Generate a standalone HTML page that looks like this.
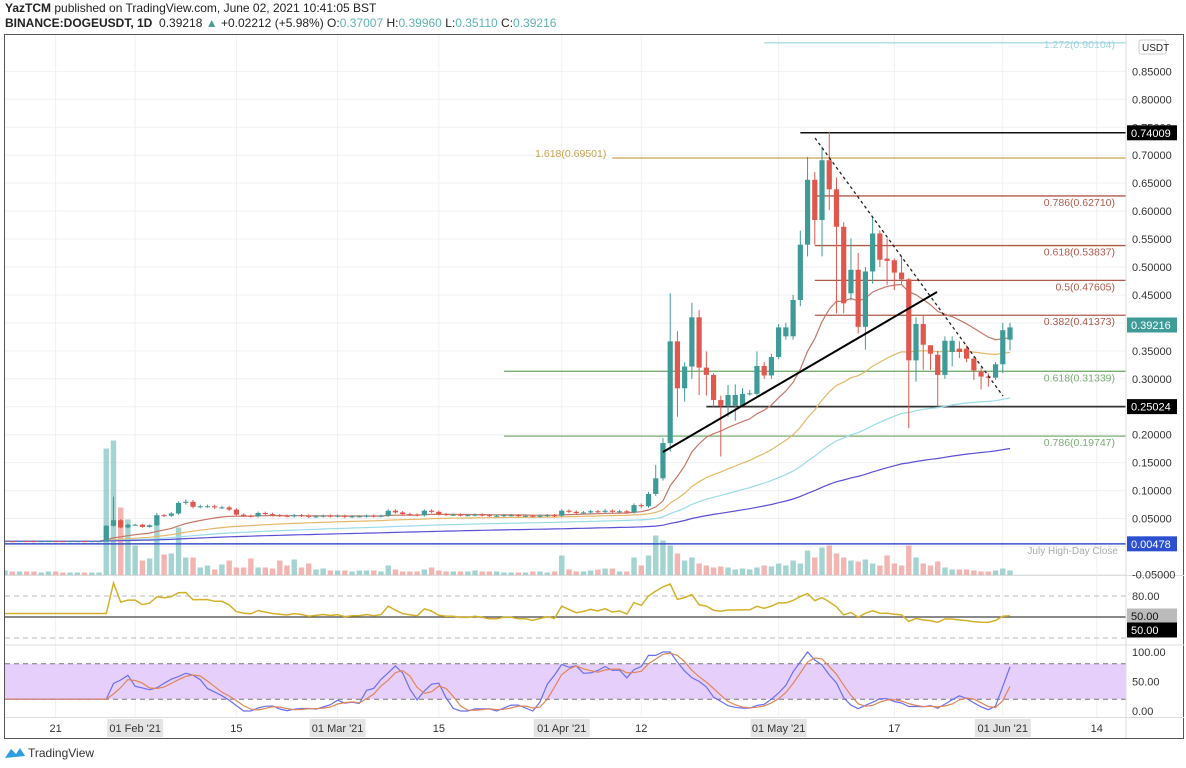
<!DOCTYPE html>
<html><head><meta charset="utf-8"><style>
html,body{margin:0;padding:0;background:#fff;width:1186px;height:768px;overflow:hidden}
svg{display:block;font-family:"Liberation Sans",sans-serif}
.hdr{position:absolute;left:5px;font:12px "Liberation Sans",sans-serif;color:#222;white-space:nowrap}
.v{color:#5fb3b3}
</style></head><body>
<div class="hdr" style="top:1px"><b>YazTCM</b> published on TradingView.com, June 02, 2021 10:41:05 BST</div>
<div class="hdr" style="top:16px"><b>BINANCE:DOGEUSDT, 1D</b>&nbsp; 0.39218 <span style="color:#4a9e9a">▲</span> +0.02212 (+5.98%) O:<span class="v">0.37007</span> H:<span class="v">0.39960</span> L:<span class="v">0.35110</span> C:<span class="v">0.39216</span></div>
<svg id="c" width="1186" height="768" viewBox="0 0 1186 768" style="position:absolute;left:0;top:0"></svg>
<script>
// ---- data ----
const firstDay = 13; // day index (Jan 1 = 0)
const earlyCloses = [0.0095,0.0094,0.0096,0.0095,0.0094,0.0095,0.0096,0.0095,0.0094,0.0095,0.0095,0.0094,0.0095,0.0095,
0.037,0.047,0.034,0.039,0.039,0.035,0.038,0.056,0.055,0.059,0.078,0.080,0.071,0.072,0.072,0.070,0.070,0.066,0.057,0.055,0.054,0.060,0.058,0.056,
0.055,0.054,0.056,0.055,0.053,0.054,0.055,0.054,0.055,0.053,0.054,0.054,0.055,0.054,0.055,
0.064,0.061,0.058,0.057,0.056,0.064,0.062,
0.058,0.057,0.057,0.056,0.056,0.057,0.056,0.055,0.055,0.056,0.056,0.055,0.055,0.054,0.055,0.056,0.055,
0.064,0.062,0.060,0.061,0.063,0.062,0.064,0.062,0.063,0.061,
0.074,0.072,0.094,0.122];
const earlyWickHighs = {28:0.089,34:0.060,37:0.081,38:0.084,103:0.146};
const lateOpens  = [0.122,0.185,0.367,0.283,0.322,0.41,0.32,0.307,0.262,0.252,0.252,0.252,0.273,0.273,0.323,0.306,0.339,0.376,0.376,0.441,0.54,0.656,0.584,0.691,0.639,0.572,0.453,0.495,0.393,0.492,0.56,0.515,0.512,0.49,0.478,0.333,0.398,0.36,0.343,0.307,0.348,0.354,0.354,0.336,0.313,0.304,0.302,0.326,0.370];
const lateHighs  = [0.194,0.453,0.385,0.33,0.436,0.423,0.349,0.31,0.27,0.289,0.29,0.283,0.28,0.349,0.33,0.345,0.398,0.40,0.45,0.565,0.697,0.67,0.715,0.742,0.66,0.58,0.551,0.525,0.50,0.59,0.565,0.551,0.515,0.519,0.48,0.41,0.414,0.36,0.35,0.376,0.376,0.367,0.36,0.34,0.32,0.31,0.33,0.40,0.40];
const lateLows   = [0.118,0.17,0.232,0.259,0.30,0.271,0.27,0.25,0.161,0.232,0.225,0.25,0.27,0.27,0.30,0.30,0.335,0.37,0.37,0.43,0.519,0.54,0.519,0.602,0.417,0.417,0.44,0.381,0.352,0.47,0.50,0.468,0.459,0.47,0.212,0.295,0.316,0.316,0.25,0.30,0.322,0.337,0.33,0.298,0.281,0.286,0.298,0.31,0.351];
const lateCloses = [0.185,0.367,0.283,0.322,0.41,0.32,0.307,0.262,0.252,0.271,0.271,0.273,0.274,0.323,0.306,0.339,0.392,0.392,0.441,0.54,0.656,0.584,0.691,0.639,0.572,0.435,0.495,0.393,0.492,0.56,0.513,0.511,0.49,0.478,0.333,0.398,0.361,0.345,0.307,0.368,0.368,0.348,0.336,0.315,0.304,0.302,0.326,0.387,0.392];
const volumes = [5,4,4,4,4,3,4,4,3,3,3,3,3,3,
127,135,68,56,30,15,17,60,21,22,48,18,18,8,10,6,11,15,8,8,17,8,8,7,
15,10,16,8,12,6,7,5,5,5,4,5,5,5,4,
10,6,4,4,4,6,8,
5,4,4,4,4,5,4,4,4,3,3,3,3,4,4,3,4,
20,6,4,4,5,6,7,7,4,4,
18,10,20,40,
35,30,22,15,18,12,10,8,9,8,6,7,6,8,10,9,12,10,15,12,25,18,28,30,22,18,15,14,16,12,10,20,12,10,30,18,12,10,14,8,6,6,6,5,4,4,5,7,5];
const priceTicks = [0.85,0.80,0.75,0.70,0.65,0.60,0.55,0.50,0.45,0.40,0.35,0.30,0.25,0.20,0.15,0.10,0.05,0.00,-0.05];
const priceTickLabels = ["0.85000","0.80000","0.75000","0.70000","0.65000","0.60000","0.55000","0.50000","0.45000","0.40000","0.35000","0.30000","0.25000","0.20000","0.15000","0.10000","0.05000","0.00000","-0.05000"];
const timeLabels = ["21","01 Feb '21","15","01 Mar '21","15","01 Apr '21","12","01 May '21","17","01 Jun '21","14"];
const timeDays = [20,31,45,59,73,90,101,120,136,151,164];
const fibLabels = ["1.272(0.90104)","1.618(0.69501)","0.786(0.62710)","0.618(0.53837)","0.5(0.47605)","0.382(0.41373)","0.618(0.31339)","0.786(0.19747)"];
const fibPrices = [0.90104,0.69501,0.62710,0.53837,0.47605,0.41373,0.31339,0.19747];
const fibStartDays = [118,97,125,125,125,125,82,82];
const fibColors = ["#a9dce6","#c9a24e","#b05a4c","#b05a4c","#b05a4c","#b05a4c","#79ad72","#79ad72"];

// ---- build ----
const S = document.getElementById('c'), NS='http://www.w3.org/2000/svg';
function mk(tag, attrs, parent){const e=document.createElementNS(NS,tag);for(const k in attrs)e.setAttribute(k,attrs[k]);(parent||S).appendChild(e);return e;}
const X = d => 1010 + (d-152)*7.23;
const Y = p => 546.5 - p*559;
const L=5, R=1126, TOP=35, MB=575.5;
const rsiY = v => 617 - (v-50)*0.7;
const stY = v => 711 - v*0.59;

const O=[],H=[],Lo=[],C=[];
earlyCloses.forEach((c,i)=>{const d=firstDay+i;const o=i?earlyCloses[i-1]:c;O.push(o);C.push(c);
 H.push(earlyWickHighs[d]!==undefined?earlyWickHighs[d]:Math.max(o,c)*1.04);Lo.push(Math.min(o,c)*0.96);});
lateOpens.forEach((o,i)=>{O.push(o);H.push(lateHighs[i]);Lo.push(lateLows[i]);C.push(lateCloses[i]);});

const defs=mk('defs',{});
const cp=mk('clipPath',{id:'mc'},defs);mk('rect',{x:L,y:TOP,width:R-L,height:MB-TOP},cp);

const grid=mk('g',{stroke:'#eef0f3','stroke-width':1});


priceTicks.forEach(p=>mk('line',{x1:L,x2:R,y1:Y(p),y2:Y(p)},grid));
timeDays.forEach(d=>mk('line',{x1:X(d),x2:X(d),y1:TOP,y2:717},grid));

const vg=mk('g',{'clip-path':'url(#mc)'});


volumes.forEach((v,i)=>{const up=C[i]>=O[i];const r=mk('rect',{x:X(firstDay+i)-2.7,y:MB-v,width:5.4,height:v,fill:up?'#8cc9c6':'#f0a39d',opacity:0.8},vg);
 
 });

function hline(y,x1,col,w,name){const l=mk('line',{x1:x1,x2:R,y1:y,y2:y,stroke:col,'stroke-width':w});
 
 }
fibPrices.forEach((p,i)=>{hline(Y(p),X(fibStartDays[i]),fibColors[i],1.3,'fib-level-line');
 const t=mk('text',{x:i==1?X(fibStartDays[i])-6:1115,y:Y(p)+(i==1?-1:(i==0?5:10)),'text-anchor':'end','font-size':10.5,fill:i==0?'#9fd3de':fibColors[i]});
 t.textContent=fibLabels[i];
 
 });
hline(Y(0.74009),X(123),'#111',1.5,'resistance-0.74009-line');
hline(Y(0.25024),X(110),'#333',1.8,'support-0.25024-line');
hline(Y(0.00478),L,'#3a4fc8',1.5,'july-high-day-close-line');
const jt=mk('text',{x:1118,y:554,'text-anchor':'end','font-size':10,fill:'#aaa'});jt.textContent='July High-Day Close';



function ema(arr,n){const a=2/(n+1);let e=arr[0];return arr.map(v=>(e=e+a*(v-e)));}
const emaDefs=[[20,'#c47766'],[50,'#e3b867'],[100,'#9adbe8'],[200,'#5a4fd6']];
const eg=mk('g',{'clip-path':'url(#mc)',fill:'none'});
emaDefs.forEach(([n,col])=>{const e=ema(C,n);const p=mk('path',{d:e.map((v,i)=>(i?'L':'M')+X(firstDay+i).toFixed(1)+','+Y(v).toFixed(1)).join(''),stroke:col,'stroke-width':1.2},eg);
 
 });

const cg=mk('g',{'clip-path':'url(#mc)'});
C.forEach((c,i)=>{const o=O[i],x=X(firstDay+i),up=c>=o,col=up?'#3f9b98':'#e0584d';
 const g=mk('g',{},cg);
 
 
 mk('line',{x1:x,x2:x,y1:Y(H[i]),y2:Y(Lo[i]),stroke:col,'stroke-width':1},g);
 const y1=Y(Math.max(o,c)),y2=Y(Math.min(o,c));
 mk('rect',{x:x-2.6,y:y1,width:5.2,height:Math.max(1,y2-y1),fill:col},g);});

const t1=mk('line',{x1:663,y1:452,x2:937,y2:292,stroke:'#000','stroke-width':2});


const t2=mk('line',{x1:815,y1:138,x2:1003,y2:396,stroke:'#222','stroke-width':1.3,'stroke-dasharray':'3,3'});



function rsi(arr,n){const out=[];let ag=0,al=0;for(let i=0;i<arr.length;i++){if(i===0){out.push(55);continue;}const ch=arr[i]-arr[i-1];const g=Math.max(ch,0),l=Math.max(-ch,0);
 if(i<=n){ag+=g/n;al+=l/n;out.push(55);continue;}ag=(ag*(n-1)+g)/n;al=(al*(n-1)+l)/n;out.push(al===0?(ag===0?50:100):100-100/(1+ag/al));}return out;}
const rs=rsi(C,14);
const rg=mk('g',{});


[80,20].forEach(v=>mk('line',{x1:L,x2:R,y1:rsiY(v),y2:rsiY(v),stroke:'#bbb','stroke-dasharray':'5,4'},rg));
mk('line',{x1:L,x2:R,y1:rsiY(50),y2:rsiY(50),stroke:'#444','stroke-width':1.3},rg);
const rp=mk('path',{d:rs.map((v,i)=>(i?'L':'M')+X(firstDay+i).toFixed(1)+','+rsiY(v).toFixed(1)).join(''),fill:'none',stroke:'#d4b02a','stroke-width':1.5},rg);



const sto=rs.map((v,i)=>{const w=rs.slice(Math.max(0,i-13),i+1);const mn=Math.min(...w),mx=Math.max(...w);return mx-mn<1e-9?20:100*(v-mn)/(mx-mn);});
const sma=(a,n)=>a.map((v,i)=>{const w=a.slice(Math.max(0,i-n+1),i+1);return w.reduce((s,x)=>s+x,0)/w.length;});
const K=sma(sto,3),D=sma(K,3);
const sg=mk('g',{});


mk('rect',{x:L,y:stY(80),width:R-L,height:stY(20)-stY(80),fill:'#e6d0fb'},sg);
[80,20].forEach(v=>mk('line',{x1:L,x2:R,y1:stY(v),y2:stY(v),stroke:'#777','stroke-dasharray':'5,4'},sg));
[[K,'#6a6ff0'],[D,'#e0855a']].forEach(([a,col])=>mk('path',{d:a.map((v,i)=>(i?'L':'M')+X(firstDay+i).toFixed(1)+','+stY(v).toFixed(1)).join(''),fill:'none',stroke:col,'stroke-width':1.2},sg));

const fr=mk('g',{stroke:'#555',fill:'none'});
mk('rect',{x:4.5,y:34.5,width:1179,height:704},fr);
mk('line',{x1:R,x2:R,y1:35,y2:738,stroke:'#ddd'},fr);
[MB,645,717.5].forEach(y=>mk('line',{x1:L,x2:1184,y1:y,y2:y,stroke:'#ddd'},fr));

const ax=mk('g',{'font-size':11,fill:'#333'});


priceTicks.forEach((p,i)=>{const t=mk('text',{x:1132,y:Y(p)+4},ax);t.textContent=priceTickLabels[i];});
const ub=mk('rect',{x:1139,y:40,width:27,height:14,fill:'#fff',stroke:'#ccc',rx:2});


const ut=mk('text',{x:1142,y:51,'font-size':10,fill:'#222'});ut.textContent='USDT';
function tag(y,txt,bg,fg,name){const g=mk('g',{});
 
 
 mk('rect',{x:1127,y:y-7.5,width:50,height:15,fill:bg},g);const t=mk('text',{x:1131,y:y+4,'font-size':11,fill:fg},g);t.textContent=txt;}
tag(Y(0.74009),'0.74009','#000','#fff','price-tag-0.74009');
tag(325,'0.39216','#3f9b98','#fff','last-price-tag');
tag(Y(0.25024),'0.25024','#000','#fff','price-tag-0.25024');
tag(Y(0.00478),'0.00478','#2b4fcf','#fff','price-tag-0.00478');
const r80=mk('text',{x:1132,y:rsiY(80)+4,'font-size':11,fill:'#333'});r80.textContent='80.00';
tag(616,'50.00','#bbb','#111','rsi-tag-gray');
tag(630,'50.00','#000','#fff','rsi-tag-black');
[[100,'100.00'],[50,'50.00'],[0,'0.00']].forEach(([v,s])=>{const t=mk('text',{x:1132,y:stY(v)+4,'font-size':11,fill:'#333'});t.textContent=s;
 
 });

timeLabels.forEach((s,i)=>{const x=X(timeDays[i]);const g=mk('g',{});
 
 
 if(s.length>3)mk('rect',{x:x-28,y:719,width:56,height:18,fill:'#e4e4e4'},g);
 const t=mk('text',{x:x,y:732,'text-anchor':'middle','font-size':11,fill:'#333'},g);t.textContent=s;});

const lg=mk('g',{});


mk('path',{d:'M5,758 L11,749 L16,754 L20,748 L25,756 Z',fill:'#2f9fe0'},lg);
const lt=mk('text',{x:28,y:757,'font-size':12,fill:'#333'},lg);lt.textContent='TradingView';
</script>
</body></html>
